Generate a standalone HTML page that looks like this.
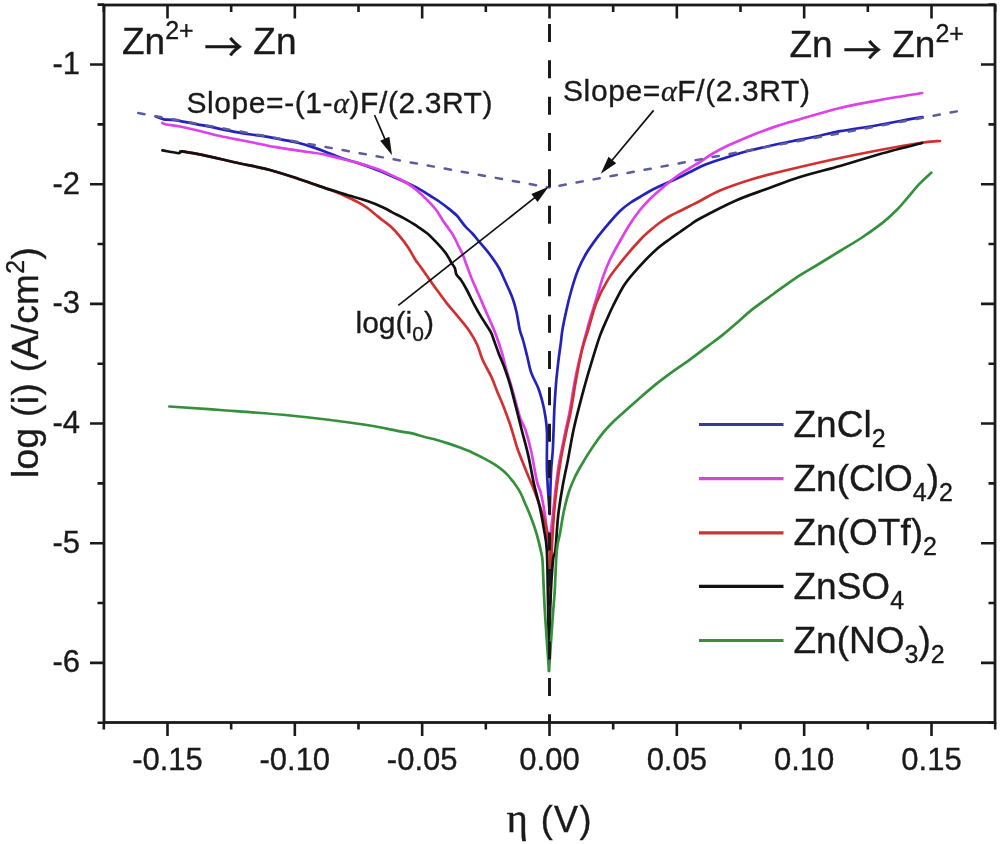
<!DOCTYPE html>
<html><head><meta charset="utf-8"><style>
html,body{margin:0;padding:0;background:#fff;}
svg{display:block;}
</style></head><body>
<svg width="1000" height="844" viewBox="0 0 1000 844" font-family="'Liberation Sans', Arial, sans-serif" fill="#1a1a1a">
<style>text{stroke:#1a1a1a;stroke-width:0.35px;}</style>
<rect x="0" y="0" width="1000" height="844" fill="#fff"/>
<path d="M156.0,116.6 C157.3,117.1 160.8,118.8 164.0,119.4 C167.2,120.0 168.7,119.2 175.0,120.2 C181.3,121.2 191.5,123.2 202.0,125.2 C212.5,127.2 228.3,130.7 238.0,132.4 C247.7,134.2 253.7,134.7 260.0,135.7 C266.3,136.7 270.7,137.4 276.0,138.4 C281.3,139.4 286.7,140.4 292.0,141.6 C297.3,142.8 302.7,144.0 308.0,145.6 C313.3,147.2 318.7,149.2 324.0,151.2 C329.3,153.2 334.7,155.7 340.0,157.6 C345.3,159.5 350.7,160.7 356.0,162.4 C361.3,164.1 366.7,166.0 372.0,168.0 C377.3,170.0 382.7,172.1 388.0,174.4 C393.3,176.7 398.6,179.1 404.0,181.6 C409.4,184.1 416.0,187.3 420.3,189.6 C424.6,191.9 426.7,193.5 429.8,195.5 C432.9,197.5 436.1,199.3 439.2,201.5 C442.3,203.7 445.7,206.2 448.7,208.6 C451.7,211.0 455.0,213.7 457.0,215.7 C459.0,217.7 459.2,218.6 460.6,220.4 C462.0,222.2 463.3,224.2 465.3,226.4 C467.3,228.6 470.2,231.1 472.4,233.5 C474.6,235.9 475.4,237.1 478.3,240.6 C481.2,244.1 486.6,250.1 490.0,254.7 C493.4,259.3 496.4,263.4 499.0,268.0 C501.6,272.6 503.2,277.0 505.5,282.0 C507.8,287.0 510.7,293.0 512.5,298.0 C514.3,303.0 515.3,306.7 516.5,312.0 C517.7,317.3 518.7,325.3 519.8,330.0 C520.9,334.7 521.8,335.8 523.0,340.0 C524.2,344.2 525.6,350.1 527.0,355.5 C528.4,360.9 529.3,367.2 531.2,372.6 C533.1,378.1 536.4,383.2 538.3,388.2 C540.2,393.2 541.4,397.8 542.6,402.5 C543.8,407.2 544.7,411.6 545.4,416.7 C546.1,421.8 546.7,423.8 547.0,433.0 C547.3,442.2 546.5,458.5 547.0,472.0 C547.5,485.5 549.2,507.0 549.7,514.0" fill="none" stroke="#2323bb" stroke-width="2.7" stroke-linejoin="round" stroke-linecap="round"/>
<path d="M549.7,514.0 C549.9,507.1 550.5,483.4 551.0,472.7 C551.5,462.0 552.4,457.1 552.8,450.0 C553.2,442.9 553.3,437.0 553.6,430.0 C553.9,423.0 554.0,415.7 554.4,408.0 C554.8,400.3 555.4,391.6 556.0,384.0 C556.6,376.4 557.4,369.8 558.2,362.7 C559.0,355.6 560.3,346.8 561.0,341.3 C561.7,335.9 561.5,335.3 562.4,330.0 C563.3,324.7 565.1,316.1 566.6,309.4 C568.1,302.6 569.7,296.1 571.6,289.5 C573.5,282.9 575.7,275.7 578.2,269.6 C580.7,263.5 583.2,258.5 586.5,253.0 C589.8,247.5 594.2,241.6 598.1,236.4 C602.0,231.2 606.4,226.2 610.0,222.0 C613.6,217.8 616.7,214.2 620.0,211.0 C623.3,207.8 626.7,205.3 630.0,203.0 C633.3,200.7 636.7,199.0 640.0,197.0 C643.3,195.0 646.7,192.8 650.0,191.0 C653.3,189.2 657.0,187.4 660.0,186.0 C663.0,184.6 664.7,184.0 668.0,182.5 C671.3,181.0 676.3,178.8 680.0,177.0 C683.7,175.2 686.3,173.8 690.0,172.0 C693.7,170.2 697.0,168.1 702.0,166.0 C707.0,163.9 713.0,161.8 720.0,159.5 C727.0,157.2 736.0,154.2 744.0,152.0 C752.0,149.8 760.0,148.0 768.0,146.2 C776.0,144.4 784.0,142.8 792.0,141.2 C800.0,139.6 808.0,138.2 816.0,136.5 C824.0,134.8 830.0,133.0 840.0,131.2 C850.0,129.4 866.0,127.2 876.0,125.5 C886.0,123.8 892.2,122.4 900.0,121.0 C907.8,119.6 918.8,117.8 922.5,117.2" fill="none" stroke="#2323bb" stroke-width="2.7" stroke-linejoin="round" stroke-linecap="round"/>
<path d="M162.4,123.0 C163.0,123.2 163.1,123.9 166.0,124.5 C168.9,125.1 174.3,125.4 180.0,126.5 C185.7,127.6 193.3,129.4 200.0,131.0 C206.7,132.6 213.3,134.5 220.0,136.0 C226.7,137.5 233.3,138.7 240.0,140.0 C246.7,141.3 254.0,142.8 260.0,144.0 C266.0,145.2 270.7,146.3 276.0,147.2 C281.3,148.1 286.7,148.8 292.0,149.6 C297.3,150.4 302.7,151.2 308.0,152.0 C313.3,152.8 318.7,153.3 324.0,154.4 C329.3,155.5 334.7,157.1 340.0,158.4 C345.3,159.7 350.7,160.9 356.0,162.4 C361.3,163.9 368.0,165.9 372.0,167.2 C376.0,168.5 376.7,168.6 380.0,170.0 C383.3,171.4 387.9,173.5 391.8,175.4 C395.8,177.3 400.1,179.3 403.7,181.3 C407.3,183.3 410.2,185.1 413.2,187.3 C416.2,189.5 418.7,191.8 421.5,194.4 C424.3,197.0 427.2,199.9 429.8,202.7 C432.4,205.5 434.7,208.1 436.9,211.0 C439.1,213.9 440.8,217.5 442.8,220.4 C444.8,223.3 446.9,226.1 448.7,228.7 C450.5,231.3 451.9,233.0 453.5,235.8 C455.1,238.6 456.6,242.1 458.2,245.3 C459.8,248.5 461.5,251.6 462.9,254.8 C464.3,258.0 464.8,260.4 466.4,264.6 C468.0,268.8 470.2,274.9 472.3,280.0 C474.4,285.1 476.9,290.5 479.0,295.2 C481.1,299.9 482.6,303.7 484.6,308.4 C486.7,313.1 489.4,319.2 491.3,323.6 C493.2,328.0 494.3,330.3 496.0,335.0 C497.7,339.7 500.1,346.7 501.7,352.0 C503.3,357.3 503.8,360.5 505.6,367.0 C507.4,373.5 510.3,382.7 512.7,391.0 C515.1,399.3 517.7,410.2 519.8,416.7 C521.9,423.2 523.6,424.2 525.5,430.0 C527.4,435.8 529.3,442.8 531.2,451.3 C533.1,459.8 535.2,474.1 536.9,481.2 C538.5,488.3 539.7,487.8 541.1,494.0 C542.5,500.2 544.2,508.9 545.4,518.2 C546.6,527.5 548.0,544.7 548.5,550.0" fill="none" stroke="#de40ea" stroke-width="2.7" stroke-linejoin="round" stroke-linecap="round"/>
<path d="M548.5,550.0 C549.2,544.7 551.3,528.0 552.5,518.0 C553.7,508.0 554.5,498.8 555.5,490.0 C556.5,481.2 557.6,472.5 558.8,465.0 C560.0,457.5 561.6,450.8 562.7,445.0 C563.9,439.2 564.5,435.8 565.7,430.0 C566.9,424.2 568.5,418.3 570.0,410.0 C571.5,401.7 573.1,389.8 575.0,380.0 C576.9,370.2 579.3,359.9 581.5,351.0 C583.7,342.1 585.7,334.6 588.0,326.3 C590.3,318.1 593.0,309.8 595.5,301.5 C598.0,293.2 600.7,283.5 603.1,276.6 C605.5,269.7 607.0,265.9 609.8,260.0 C612.6,254.1 616.6,247.0 620.0,241.0 C623.4,235.0 626.7,229.2 630.0,224.0 C633.3,218.8 636.7,214.2 640.0,210.0 C643.3,205.8 646.7,202.3 650.0,199.0 C653.3,195.7 656.7,192.9 660.0,190.0 C663.3,187.1 666.7,184.2 670.0,181.5 C673.3,178.8 676.7,176.2 680.0,174.0 C683.3,171.8 686.7,170.0 690.0,168.0 C693.3,166.0 696.3,164.3 700.0,162.0 C703.7,159.7 707.3,156.7 712.0,154.0 C716.7,151.3 721.3,148.7 728.0,145.6 C734.7,142.5 744.0,138.4 752.0,135.2 C760.0,132.0 768.0,129.1 776.0,126.4 C784.0,123.7 789.3,122.3 800.0,119.2 C810.7,116.1 826.7,111.2 840.0,108.0 C853.3,104.8 866.3,102.5 880.0,100.0 C893.7,97.5 915.0,94.2 922.0,93.0" fill="none" stroke="#de40ea" stroke-width="2.7" stroke-linejoin="round" stroke-linecap="round"/>
<path d="M180.4,151.3 C184.0,151.9 192.4,153.0 202.0,154.9 C211.6,156.8 228.3,160.9 238.0,163.0 C247.7,165.1 254.7,166.4 260.0,167.6 C265.3,168.8 264.3,168.3 270.0,170.0 C275.7,171.7 286.0,174.9 294.0,177.5 C302.0,180.1 311.7,183.6 318.0,185.8 C324.3,188.0 328.0,189.1 332.0,190.5 C336.0,191.9 339.0,193.2 342.0,194.5 C345.0,195.8 347.3,197.0 350.0,198.3 C352.7,199.6 355.5,200.9 358.3,202.4 C361.1,203.9 363.8,205.5 366.6,207.4 C369.4,209.3 372.1,211.8 374.9,214.0 C377.7,216.2 380.4,218.5 383.2,220.7 C386.0,222.9 388.7,224.7 391.5,227.3 C394.3,229.9 397.1,233.1 399.8,236.4 C402.6,239.7 405.4,243.3 408.0,247.2 C410.6,251.1 413.5,256.9 415.5,260.0 C417.5,263.1 417.9,263.0 420.0,266.0 C422.1,269.0 425.5,274.0 428.3,277.9 C431.1,281.8 433.6,285.4 436.6,289.5 C439.6,293.6 442.8,298.1 446.5,302.8 C450.2,307.5 455.2,313.1 459.0,317.8 C462.8,322.5 466.5,326.8 469.5,331.2 C472.5,335.6 474.9,339.7 477.1,344.5 C479.3,349.3 480.3,354.6 482.7,360.0 C485.1,365.4 489.0,371.7 491.4,376.9 C493.8,382.1 494.9,385.8 497.0,391.0 C499.1,396.2 502.1,402.7 504.2,408.2 C506.3,413.7 508.1,418.5 509.9,423.8 C511.7,429.1 513.4,435.4 514.8,440.0 C516.2,444.6 516.4,445.9 518.4,451.3 C520.4,456.8 524.3,466.3 526.9,472.7 C529.5,479.1 531.6,483.5 534.0,489.7 C536.4,495.9 539.0,503.0 541.1,509.6 C543.2,516.2 545.4,522.8 546.8,529.5 C548.2,536.2 549.2,537.8 549.7,550.0 C550.2,562.2 550.0,594.2 550.0,603.0" fill="none" stroke="#d23030" stroke-width="2.7" stroke-linejoin="round" stroke-linecap="round"/>
<path d="M550.0,603.0 C550.3,594.2 551.1,564.6 551.8,550.0 C552.4,535.4 553.1,525.8 553.9,515.3 C554.7,504.8 555.6,496.4 556.8,486.9 C558.0,477.4 559.4,467.9 561.0,458.4 C562.6,448.9 565.0,438.1 566.7,430.0 C568.4,421.9 569.5,418.3 571.0,410.0 C572.5,401.7 574.2,390.0 576.0,380.0 C577.8,370.0 580.0,358.3 582.0,350.0 C584.0,341.7 585.7,337.9 588.1,330.0 C590.5,322.1 593.1,311.2 596.4,302.8 C599.7,294.4 603.6,286.8 608.0,279.6 C612.4,272.4 617.7,266.2 623.0,259.6 C628.3,253.0 635.5,244.8 640.0,240.0 C644.5,235.2 646.7,233.4 650.0,230.5 C653.3,227.6 656.7,224.9 660.0,222.5 C663.3,220.1 666.7,217.9 670.0,216.0 C673.3,214.1 676.7,212.7 680.0,211.0 C683.3,209.3 686.7,207.7 690.0,206.0 C693.3,204.3 695.0,203.6 700.0,201.0 C705.0,198.4 711.3,194.0 720.0,190.4 C728.7,186.8 742.7,182.1 752.0,179.2 C761.3,176.3 768.0,174.8 776.0,172.8 C784.0,170.8 789.3,169.5 800.0,167.0 C810.7,164.5 826.7,160.8 840.0,158.0 C853.3,155.2 866.7,152.5 880.0,150.0 C893.3,147.5 910.0,144.5 920.0,143.0 C930.0,141.5 936.7,141.3 940.0,141.0" fill="none" stroke="#d23030" stroke-width="2.7" stroke-linejoin="round" stroke-linecap="round"/>
<path d="M162.4,150.4 C165.1,150.8 175.3,152.9 178.6,153.1 C181.9,153.2 178.3,151.0 182.2,151.3 C186.1,151.6 192.7,153.0 202.0,154.9 C211.3,156.8 228.3,160.9 238.0,163.0 C247.7,165.1 254.7,166.4 260.0,167.6 C265.3,168.8 264.3,168.4 270.0,170.0 C275.7,171.6 286.0,174.6 294.0,177.2 C302.0,179.8 310.0,182.9 318.0,185.6 C326.0,188.3 336.7,191.7 342.0,193.4 C347.3,195.1 345.9,194.6 350.0,195.8 C354.1,197.0 361.1,198.9 366.6,200.8 C372.1,202.7 379.0,205.5 383.2,207.4 C387.4,209.3 388.4,210.3 391.8,212.1 C395.2,213.9 399.8,215.9 403.7,218.1 C407.6,220.3 411.6,222.6 415.5,225.2 C419.4,227.8 423.8,230.6 427.4,233.5 C431.0,236.4 433.9,239.8 436.9,242.9 C439.9,246.1 443.0,249.6 445.2,252.4 C447.4,255.2 448.8,258.2 449.9,260.0 C450.9,261.8 450.7,261.7 451.5,263.0 C452.3,264.3 454.0,266.1 454.8,268.0 C455.6,269.9 455.5,272.6 456.5,274.6 C457.5,276.6 459.3,277.5 461.0,280.0 C462.7,282.5 464.4,285.4 466.6,289.5 C468.8,293.6 471.7,299.9 474.2,304.6 C476.7,309.3 479.1,313.5 481.8,317.9 C484.5,322.3 488.2,327.4 490.3,331.2 C492.4,335.0 492.7,336.9 494.1,340.7 C495.5,344.5 497.2,349.5 498.9,353.9 C500.6,358.3 502.4,362.0 504.2,367.0 C506.0,372.0 508.0,377.6 509.9,384.0 C511.8,390.4 513.6,398.0 515.5,405.3 C517.4,412.6 519.1,419.6 521.2,428.0 C523.3,436.4 526.2,446.3 528.3,455.6 C530.4,464.9 532.1,475.5 534.0,484.0 C535.9,492.5 538.0,499.2 539.7,506.8 C541.4,514.4 542.8,522.3 544.0,529.5 C545.2,536.7 546.1,538.2 546.8,550.0 C547.5,561.8 547.6,581.7 548.0,600.0 C548.4,618.3 548.8,650.0 549.0,660.0" fill="none" stroke="#111111" stroke-width="2.7" stroke-linejoin="round" stroke-linecap="round"/>
<path d="M549.0,660.0 C549.2,650.0 549.8,616.7 550.5,600.0 C551.2,583.3 552.2,568.3 553.0,560.0 C553.8,551.7 554.5,557.5 555.4,550.0 C556.3,542.5 557.0,525.8 558.2,515.3 C559.4,504.8 560.8,496.4 562.5,486.9 C564.2,477.4 566.4,467.9 568.2,458.4 C570.0,448.9 571.6,438.9 573.5,430.0 C575.4,421.1 577.5,413.0 579.5,405.3 C581.5,397.6 583.1,391.6 585.2,384.0 C587.3,376.4 589.8,367.9 592.3,359.8 C594.8,351.7 597.6,342.2 600.0,335.6 C602.4,329.0 604.4,324.9 606.6,320.0 C608.8,315.1 610.0,311.9 613.0,306.0 C616.0,300.1 620.2,291.1 624.6,284.5 C629.0,277.9 634.4,272.1 639.6,266.3 C644.9,260.5 651.0,254.2 656.1,249.7 C661.2,245.1 666.0,241.9 670.0,239.0 C674.0,236.1 676.7,234.3 680.0,232.0 C683.3,229.7 686.7,227.2 690.0,225.0 C693.3,222.8 692.3,222.6 700.0,218.5 C707.7,214.4 724.7,205.5 736.0,200.5 C747.3,195.5 757.3,192.4 768.0,188.5 C778.7,184.6 788.0,180.8 800.0,177.0 C812.0,173.2 826.7,169.8 840.0,166.0 C853.3,162.2 866.3,157.8 880.0,154.0 C893.7,150.2 915.0,144.8 922.0,143.0" fill="none" stroke="#111111" stroke-width="2.7" stroke-linejoin="round" stroke-linecap="round"/>
<path d="M169.3,406.5 C177.8,407.1 199.9,408.5 220.0,410.0 C240.1,411.5 266.7,413.2 290.0,415.5 C313.3,417.8 341.7,421.4 360.0,424.0 C378.3,426.6 391.3,429.8 400.0,431.4 C408.7,433.0 408.0,432.5 412.0,433.4 C416.0,434.3 420.0,435.7 424.0,436.8 C428.0,437.9 432.0,438.7 436.0,439.8 C440.0,440.9 444.0,442.1 448.0,443.4 C452.0,444.7 456.0,446.1 460.0,447.6 C464.0,449.1 468.0,450.6 472.0,452.4 C476.0,454.2 480.2,456.3 484.0,458.4 C487.8,460.4 491.2,462.1 495.0,464.7 C498.8,467.3 502.9,470.0 506.8,474.2 C510.8,478.4 515.5,484.5 518.7,489.6 C521.9,494.7 523.6,500.1 525.8,505.0 C528.0,509.9 529.9,514.5 531.7,519.2 C533.5,524.0 534.9,528.0 536.5,533.5 C538.1,539.0 540.2,547.6 541.2,552.4 C542.2,557.1 542.2,555.7 542.6,562.0 C543.0,568.3 543.3,579.8 543.8,590.0 C544.3,600.2 544.7,609.5 545.6,623.0 C546.5,636.5 548.4,663.0 549.0,671.0" fill="none" stroke="#34903a" stroke-width="2.7" stroke-linejoin="round" stroke-linecap="round"/>
<path d="M549.0,671.0 C549.5,663.0 551.3,636.5 552.3,623.0 C553.3,609.5 554.0,602.0 554.8,589.8 C555.5,577.6 555.9,559.4 556.8,550.0 C557.7,540.6 558.9,539.7 560.0,533.5 C561.1,527.3 562.1,519.8 563.5,513.0 C564.9,506.2 566.7,498.8 568.5,493.0 C570.3,487.2 572.4,482.6 574.5,478.0 C576.6,473.4 578.5,470.1 581.3,465.3 C584.0,460.6 587.5,454.8 591.0,449.5 C594.5,444.2 598.9,437.9 602.6,433.3 C606.3,428.7 609.4,425.6 613.0,422.0 C616.6,418.4 619.5,416.0 624.0,412.0 C628.5,408.0 634.4,402.7 639.8,398.0 C645.2,393.3 650.9,388.3 656.4,383.9 C661.9,379.5 667.5,375.4 673.0,371.4 C678.5,367.4 684.1,363.8 689.6,359.8 C695.1,355.8 700.6,351.5 706.1,347.4 C711.6,343.2 717.2,339.3 722.7,334.9 C728.2,330.5 734.4,325.0 739.3,320.8 C744.2,316.6 746.2,314.2 752.0,309.6 C757.8,305.1 766.7,298.8 774.0,293.5 C781.3,288.2 788.7,282.6 796.0,277.8 C803.3,273.0 810.7,269.0 818.0,264.5 C825.3,260.0 832.7,255.5 840.0,251.0 C847.3,246.5 854.7,242.4 862.0,237.5 C869.3,232.6 878.1,226.3 884.0,221.6 C889.9,216.9 893.5,213.2 897.2,209.5 C900.9,205.8 902.3,203.8 906.0,199.6 C909.7,195.4 915.0,188.7 919.2,184.2 C923.4,179.7 929.3,174.7 931.3,172.8" fill="none" stroke="#34903a" stroke-width="2.7" stroke-linejoin="round" stroke-linecap="round"/>

<g fill="none" stroke="#5c5c9e" stroke-width="2.5" stroke-linecap="round" stroke-dasharray="6.3,11"><line x1="549.5" y1="187.6" x2="138" y2="113" stroke-dashoffset="3.6"/><line x1="549.5" y1="187.6" x2="960" y2="110.8" stroke-dashoffset="7.1"/></g>
<line x1="549.5" y1="24" x2="549.5" y2="722" stroke="#1a1a1a" stroke-width="3" stroke-dasharray="18,18.33"/>
<rect x="104" y="5" width="891" height="717.5" fill="none" stroke="#1a1a1a" stroke-width="2.8"/>
<path d="M103.83,722.5V729.5 M103.83,5V12 M167.49,722.5V736.0 M167.49,5V18.5 M231.16,722.5V729.5 M231.16,5V12 M294.83,722.5V736.0 M294.83,5V18.5 M358.50,722.5V729.5 M358.50,5V12 M422.17,722.5V736.0 M422.17,5V18.5 M485.83,722.5V729.5 M485.83,5V12 M549.50,722.5V736.0 M549.50,5V18.5 M613.17,722.5V729.5 M613.17,5V12 M676.84,722.5V736.0 M676.84,5V18.5 M740.50,722.5V729.5 M740.50,5V12 M804.17,722.5V736.0 M804.17,5V18.5 M867.84,722.5V729.5 M867.84,5V12 M931.51,722.5V736.0 M931.51,5V18.5 M995.17,722.5V729.5 M995.17,5V12 M104,722.74H97.5 M995,722.74H988.5 M104,662.90H90 M995,662.90H981 M104,603.06H97.5 M995,603.06H988.5 M104,543.22H90 M995,543.22H981 M104,483.38H97.5 M995,483.38H988.5 M104,423.54H90 M995,423.54H981 M104,363.70H97.5 M995,363.70H988.5 M104,303.86H90 M995,303.86H981 M104,244.02H97.5 M995,244.02H988.5 M104,184.18H90 M995,184.18H981 M104,124.34H97.5 M995,124.34H988.5 M104,64.50H90 M995,64.50H981 M104,4.66H97.5 M995,4.66H988.5" stroke="#1a1a1a" stroke-width="2.6" fill="none"/>
<g font-size="31"><text x="167.5" y="770" text-anchor="middle">-0.15</text><text x="294.8" y="770" text-anchor="middle">-0.10</text><text x="422.2" y="770" text-anchor="middle">-0.05</text><text x="549.5" y="770" text-anchor="middle">0.00</text><text x="676.8" y="770" text-anchor="middle">0.05</text><text x="804.2" y="770" text-anchor="middle">0.10</text><text x="931.5" y="770" text-anchor="middle">0.15</text><text x="80" y="73.8" text-anchor="end">-1</text><text x="80" y="193.5" text-anchor="end">-2</text><text x="80" y="313.2" text-anchor="end">-3</text><text x="80" y="432.8" text-anchor="end">-4</text><text x="80" y="552.5" text-anchor="end">-5</text><text x="80" y="672.2" text-anchor="end">-6</text></g>
<text x="549" y="831.5" font-size="36" text-anchor="middle" textLength="85" lengthAdjust="spacing"><tspan font-family="'Liberation Serif', serif" font-size="41">η</tspan> (V)</text>
<text transform="translate(37.5,362.6) rotate(-90)" font-size="37" text-anchor="middle" textLength="231" lengthAdjust="spacing">log (i) (A/cm<tspan font-size="25" dy="-14">2</tspan><tspan dy="14">)</tspan></text>
<text x="122" y="53.6" font-size="37">Zn<tspan font-size="25" dy="-15">2+</tspan><tspan dy="15"> </tspan><tspan font-family="'Noto Sans CJK JP', sans-serif" font-size="39" dy="7">→</tspan><tspan dy="-7"> Zn</tspan></text>
<text x="789.5" y="57" font-size="37">Zn <tspan font-family="'Noto Sans CJK JP', sans-serif" font-size="39" dy="7">→</tspan><tspan dy="-7"> Zn</tspan><tspan font-size="25" dy="-15">2+</tspan></text>
<text x="563" y="100.6" font-size="30" textLength="247" lengthAdjust="spacing">Slope=<tspan font-family="'Liberation Serif', serif" font-style="italic">α</tspan>F/(2.3RT)</text>
<text x="186.5" y="113" font-size="30" textLength="306" lengthAdjust="spacing">Slope=-(1-<tspan font-family="'Liberation Serif', serif" font-style="italic">α</tspan>)F/(2.3RT)</text>
<text x="355.5" y="332.5" font-size="30">log(i<tspan font-size="21" dy="8.5">0</tspan><tspan dy="-8.5">)</tspan></text>
<line x1="398.3" y1="305.4" x2="536.0" y2="196.7" stroke="#111" stroke-width="1.7"/><polygon points="548.6,186.8 537.6,201.9 531.4,194.0" fill="#111"/><line x1="374.5" y1="115" x2="385.6" y2="140.6" stroke="#111" stroke-width="1.7"/><polygon points="392,155.3 380.2,140.8 389.4,136.8" fill="#111"/><line x1="653.6" y1="110.4" x2="611.0" y2="161.5" stroke="#111" stroke-width="1.7"/><polygon points="600.8,173.8 608.5,156.8 616.2,163.2" fill="#111"/>
<line x1="699" y1="424.5" x2="783.5" y2="424.5" stroke="#383896" stroke-width="3.2"/><text x="793.5" y="437.0" font-size="37">ZnCl<tspan font-size="25" dy="10">2</tspan></text><line x1="699" y1="478.6" x2="783.5" y2="478.6" stroke="#d644d8" stroke-width="3.2"/><text x="793.5" y="491.1" font-size="37">Zn(ClO<tspan font-size="25" dy="10">4</tspan><tspan dy="-10">)</tspan><tspan font-size="25" dy="10">2</tspan></text><line x1="699" y1="532.8" x2="783.5" y2="532.8" stroke="#cc3333" stroke-width="3.2"/><text x="793.5" y="545.3" font-size="37">Zn(OTf)<tspan font-size="25" dy="10">2</tspan></text><line x1="699" y1="586.4" x2="783.5" y2="586.4" stroke="#111111" stroke-width="3.2"/><text x="793.5" y="598.9" font-size="37">ZnSO<tspan font-size="25" dy="10">4</tspan></text><line x1="699" y1="640.5" x2="783.5" y2="640.5" stroke="#3a8c3e" stroke-width="3.2"/><text x="793.5" y="653.0" font-size="37">Zn(NO<tspan font-size="25" dy="10">3</tspan><tspan dy="-10">)</tspan><tspan font-size="25" dy="10">2</tspan></text>
</svg>
</body></html>
